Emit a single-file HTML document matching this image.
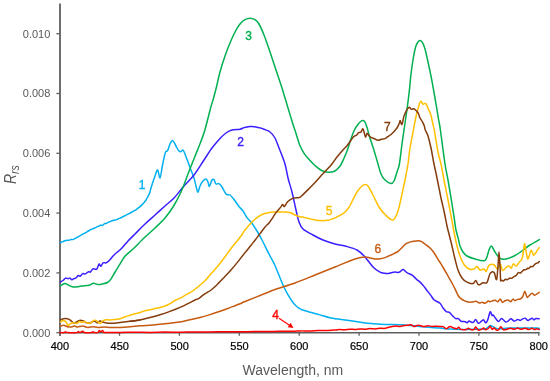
<!DOCTYPE html>
<html><head><meta charset="utf-8"><title>Rrs spectra</title>
<style>
html,body{margin:0;padding:0;background:#fff;}
body{width:550px;height:381px;overflow:hidden;font-family:"Liberation Sans",sans-serif;}
svg{display:block;}
svg text{font-family:"Liberation Sans",sans-serif;}
.yl{font-size:11px;fill:#595959;text-anchor:end;}
.xl{font-size:11px;fill:#000;stroke:#000;stroke-width:0.2;text-anchor:middle;}
.cl{font-size:12px;text-anchor:middle;}
.c{fill:none;stroke-width:1.5;stroke-linejoin:round;stroke-linecap:round;}
</style></head><body>
<svg width="550" height="381" viewBox="0 0 550 381">
<rect width="550" height="381" fill="#fff"/>

<g stroke="#5f5f5f" stroke-width="2" fill="none">
<line x1="60" y1="3.6" x2="60" y2="336" stroke-width="1.8"/>
<line x1="59" y1="332.7" x2="539.5" y2="332.7" stroke-width="1.6"/>
<line x1="56.4" y1="332.7" x2="60" y2="332.7" stroke-width="1.3"/>
<line x1="56.4" y1="272.9" x2="60" y2="272.9" stroke-width="1.3"/>
<line x1="56.4" y1="213.1" x2="60" y2="213.1" stroke-width="1.3"/>
<line x1="56.4" y1="153.3" x2="60" y2="153.3" stroke-width="1.3"/>
<line x1="56.4" y1="93.5" x2="60" y2="93.5" stroke-width="1.3"/>
<line x1="56.4" y1="33.7" x2="60" y2="33.7" stroke-width="1.3"/>
<line x1="119.5" y1="332" x2="119.5" y2="335.8" stroke-width="1.3"/>
<line x1="179.4" y1="332" x2="179.4" y2="335.8" stroke-width="1.3"/>
<line x1="239.3" y1="332" x2="239.3" y2="335.8" stroke-width="1.3"/>
<line x1="299.2" y1="332" x2="299.2" y2="335.8" stroke-width="1.3"/>
<line x1="359.1" y1="332" x2="359.1" y2="335.8" stroke-width="1.3"/>
<line x1="419.0" y1="332" x2="419.0" y2="335.8" stroke-width="1.3"/>
<line x1="478.9" y1="332" x2="478.9" y2="335.8" stroke-width="1.3"/>
<line x1="538.8" y1="332" x2="538.8" y2="335.8" stroke-width="1.3"/>
</g>
<text class="yl" x="50.3" y="336.6">0.000</text>
<text class="yl" x="50.3" y="276.8">0.002</text>
<text class="yl" x="50.3" y="217.0">0.004</text>
<text class="yl" x="50.3" y="157.2">0.006</text>
<text class="yl" x="50.3" y="97.4">0.008</text>
<text class="yl" x="50.3" y="37.6">0.010</text>
<text class="xl" x="59.9" y="350.1">400</text>
<text class="xl" x="119.8" y="350.1">450</text>
<text class="xl" x="179.6" y="350.1">500</text>
<text class="xl" x="239.5" y="350.1">550</text>
<text class="xl" x="299.3" y="350.1">600</text>
<text class="xl" x="359.1" y="350.1">650</text>
<text class="xl" x="419.0" y="350.1">700</text>
<text class="xl" x="478.8" y="350.1">750</text>
<text class="xl" x="538.7" y="350.1">800</text>
<text x="242.5" y="375" font-size="14" fill="#595959">Wavelength, nm</text>
<text transform="translate(15.5,184) rotate(-90) scale(1,1.13)" font-size="14" font-style="italic" fill="#595959">R<tspan font-size="10.5" dy="3.5">rs</tspan></text>
<path class="c" stroke="#00b0f0" d="M60.3 242.6C60.7 242.4 62.1 242.0 63.0 241.6C63.9 241.2 65.0 240.6 66.0 240.4C67.0 240.2 68.2 240.3 69.0 240.2C69.8 240.1 70.3 239.7 71.0 239.6C71.7 239.5 72.3 239.8 73.4 239.4C74.5 239.0 76.5 237.6 78.0 236.8C79.5 236.0 81.2 235.0 82.6 234.2C84.0 233.4 85.5 232.6 87.0 231.8C88.5 231.0 90.4 229.9 91.8 229.2C93.2 228.5 94.3 228.1 95.5 227.6C96.7 227.1 98.2 226.4 99.1 226.0C100.0 225.6 100.5 225.1 101.0 225.0C101.5 224.9 102.0 225.8 102.5 225.6C103.0 225.4 103.4 224.4 104.0 224.0C104.6 223.6 105.5 223.6 106.5 223.2C107.5 222.8 108.8 222.1 110.0 221.6C111.2 221.1 112.8 220.5 113.8 220.2C114.8 219.9 115.6 219.9 116.5 219.6C117.4 219.3 118.1 218.9 119.3 218.4C120.5 217.9 122.5 216.9 124.0 216.2C125.5 215.5 127.2 214.6 128.5 213.9C129.8 213.2 130.8 212.7 132.0 212.0C133.2 211.3 134.8 210.5 135.9 209.8C137.0 209.1 138.1 208.1 139.0 207.4C139.9 206.7 140.6 206.2 141.4 205.4C142.2 204.6 143.3 203.5 144.0 202.6C144.7 201.7 145.4 201.0 146.0 200.0C146.6 199.0 147.4 197.7 148.0 196.5C148.6 195.3 149.2 194.2 149.7 192.8C150.2 191.4 150.2 190.7 151.0 188.0C151.8 185.3 153.9 178.9 155.0 176.0C156.1 173.1 156.8 169.7 157.6 170.0C158.4 170.3 159.3 178.3 160.0 178.0C160.7 177.7 161.4 171.2 162.0 168.0C162.6 164.8 163.4 160.6 164.0 158.0C164.6 155.4 165.0 153.2 165.6 152.0C166.2 150.8 166.9 151.9 167.6 150.6C168.3 149.3 169.2 145.6 170.0 144.0C170.8 142.4 171.6 140.4 172.4 140.4C173.2 140.4 174.3 142.8 175.0 144.0C175.7 145.2 176.4 146.9 177.0 148.0C177.6 149.1 178.4 150.4 179.0 151.0C179.6 151.6 180.4 151.8 181.0 151.6C181.6 151.4 182.4 149.6 183.0 150.0C183.6 150.4 184.2 152.1 185.0 154.0C185.8 155.9 187.0 159.4 188.0 162.0C189.0 164.6 190.0 167.4 191.0 170.0C192.0 172.6 193.2 175.4 194.0 178.0C194.8 180.6 195.4 183.7 196.0 186.0C196.6 188.3 197.4 192.4 198.0 192.4C198.6 192.4 199.2 187.8 200.0 186.0C200.8 184.2 202.0 182.1 203.0 181.0C204.0 179.9 205.2 178.8 206.0 179.0C206.8 179.2 207.5 180.8 208.0 182.0C208.5 183.2 208.8 186.7 209.4 186.4C210.0 186.1 211.3 181.1 212.0 180.0C212.7 178.9 213.4 179.0 214.0 179.6C214.6 180.2 215.2 183.4 216.0 184.0C216.8 184.6 218.0 183.1 219.0 183.6C220.0 184.1 220.9 185.3 222.0 187.0C223.1 188.7 224.7 192.7 226.0 194.0C227.3 195.3 228.7 194.1 230.0 195.0C231.3 195.9 232.6 197.7 234.0 199.5C235.4 201.3 237.6 204.7 239.0 206.5C240.4 208.3 241.7 209.2 243.0 211.0C244.3 212.8 245.7 215.8 247.0 217.6C248.3 219.4 249.4 219.9 251.0 222.0C252.6 224.1 255.2 228.1 257.0 231.0C258.8 233.9 260.1 236.3 262.0 240.0C263.9 243.7 266.9 249.9 269.0 254.0C271.1 258.1 272.8 260.5 275.0 265.5C277.2 270.5 281.0 280.6 283.0 285.0C285.0 289.4 285.7 290.6 287.2 293.3C288.7 296.0 291.0 299.7 292.4 301.7C293.8 303.7 295.0 304.8 296.0 305.8C297.0 306.8 297.7 307.4 298.7 308.0C299.7 308.6 300.5 309.2 302.0 309.8C303.5 310.4 305.5 310.9 308.2 311.7C310.9 312.5 315.4 313.6 319.0 314.6C322.6 315.6 326.8 317.1 331.0 318.0C335.2 318.9 340.5 319.4 345.0 320.0C349.5 320.6 354.8 321.4 359.0 322.0C363.2 322.6 366.8 323.2 371.0 323.6C375.2 324.0 379.6 324.2 385.0 324.4C390.4 324.6 398.6 324.6 405.0 325.0C411.4 325.4 419.4 326.5 425.0 327.0C430.6 327.5 436.6 327.7 440.0 328.0C443.4 328.3 443.6 328.5 446.0 328.7C448.4 328.9 452.0 329.1 455.0 329.2C458.0 329.3 461.8 329.4 465.0 329.4C468.2 329.4 472.1 329.4 475.0 329.3C477.9 329.2 481.1 329.2 483.0 329.0C484.9 328.8 485.8 328.8 487.0 328.2C488.2 327.6 489.1 325.5 490.2 325.4C491.3 325.3 492.7 326.8 493.9 327.3C495.1 327.8 496.4 328.5 497.9 328.7C499.4 328.9 501.1 328.6 503.0 328.5C504.9 328.4 507.3 328.1 510.0 328.0C512.7 327.9 516.8 328.0 520.0 328.0C523.2 328.0 526.9 327.9 530.0 327.9C533.1 327.9 537.7 328.2 539.2 328.2"/>
<path class="c" stroke="#3a20ff" d="M60.4 282.0C60.9 281.7 62.8 280.6 63.6 280.0C64.4 279.4 64.8 278.3 65.5 278.1C66.2 277.9 67.4 278.7 68.1 278.7C68.8 278.7 69.4 277.9 70.0 278.1C70.6 278.3 71.3 279.6 71.9 279.7C72.5 279.8 73.2 279.0 73.8 278.7C74.4 278.4 75.0 278.6 75.7 278.1C76.4 277.6 77.6 275.8 78.3 275.5C79.0 275.2 79.5 276.5 80.2 276.2C80.9 275.9 81.9 274.0 82.7 273.6C83.5 273.2 84.4 274.2 85.3 273.9C86.2 273.6 87.7 272.0 88.5 271.7C89.3 271.4 89.7 272.6 90.4 272.1C91.1 271.6 91.9 269.3 92.9 268.8C93.9 268.3 95.7 270.0 96.7 269.2C97.7 268.4 98.3 264.6 99.0 264.1C99.7 263.6 100.1 266.5 100.8 266.3C101.5 266.1 102.2 263.4 103.1 262.8C104.0 262.2 105.3 263.2 106.3 262.8C107.3 262.4 108.5 261.3 109.5 260.3C110.5 259.3 111.6 257.6 112.6 256.5C113.6 255.4 114.5 254.5 115.8 253.3C117.1 252.1 119.0 251.0 121.0 249.0C123.0 247.0 125.8 243.4 128.0 241.0C130.2 238.6 132.3 236.7 135.0 234.0C137.7 231.3 141.8 227.0 145.0 224.0C148.2 221.0 151.8 217.9 155.0 215.0C158.2 212.1 162.0 208.7 165.0 206.0C168.0 203.3 171.0 201.2 174.0 198.0C177.0 194.8 180.8 189.7 184.0 186.0C187.2 182.3 190.8 179.2 194.0 175.0C197.2 170.8 201.1 164.3 204.0 160.0C206.9 155.7 209.4 151.4 212.0 148.0C214.6 144.6 217.8 140.9 220.0 138.5C222.2 136.1 224.1 134.4 226.0 133.0C227.9 131.6 229.8 130.6 232.0 130.0C234.2 129.4 238.1 129.7 240.0 129.3C241.9 128.9 242.7 128.0 244.0 127.6C245.3 127.2 246.7 126.9 248.0 126.7C249.3 126.5 250.7 126.6 252.0 126.6C253.3 126.6 254.7 126.8 256.0 127.0C257.3 127.2 258.7 127.5 260.0 127.9C261.3 128.3 262.4 128.6 264.0 129.3C265.6 130.0 268.2 130.6 270.0 132.0C271.8 133.4 273.6 135.4 275.0 138.0C276.4 140.6 277.4 143.8 279.0 148.0C280.6 152.2 283.6 159.2 285.0 164.0C286.4 168.8 286.9 173.5 288.0 178.0C289.1 182.5 290.7 186.9 292.0 192.0C293.3 197.1 294.9 205.2 296.0 210.0C297.1 214.8 297.9 219.0 299.0 222.0C300.1 225.0 300.8 226.9 303.0 229.0C305.2 231.1 309.8 233.2 313.0 235.0C316.2 236.8 319.5 238.6 323.0 240.0C326.5 241.4 331.5 243.0 335.0 244.0C338.5 245.0 341.5 245.0 345.0 246.0C348.5 247.0 353.8 248.2 357.0 250.0C360.2 251.8 362.4 254.3 365.0 257.0C367.6 259.7 370.6 264.6 373.0 267.0C375.4 269.4 378.1 271.2 380.0 272.2C381.9 273.2 383.8 273.1 385.0 273.3C386.2 273.5 386.4 273.7 387.4 273.6C388.4 273.5 389.8 273.1 391.0 272.8C392.2 272.5 393.5 271.9 394.7 271.9C395.9 271.9 397.5 272.6 398.4 272.5C399.3 272.4 399.8 271.8 400.5 271.3C401.2 270.8 402.2 269.6 403.0 269.6C403.8 269.6 404.6 270.6 405.3 271.2C406.0 271.8 406.5 272.5 407.6 273.1C408.7 273.7 410.7 274.2 412.2 275.2C413.7 276.2 415.6 278.6 416.8 279.6C418.0 280.6 418.6 280.8 419.5 281.6C420.4 282.4 421.4 283.4 422.3 284.4C423.2 285.4 424.1 286.7 425.0 287.8C425.9 288.9 426.8 290.2 427.8 291.4C428.8 292.6 430.0 294.2 431.0 295.6C432.0 297.0 432.8 298.8 434.2 300.0C435.6 301.2 438.6 302.0 440.0 303.3C441.4 304.6 442.1 306.8 443.1 308.1C444.1 309.4 445.3 311.0 446.3 311.7C447.3 312.4 448.4 311.6 449.4 312.3C450.4 313.0 451.6 314.9 452.6 315.9C453.6 316.9 454.8 318.2 455.7 318.6C456.6 319.0 457.6 318.2 458.4 318.6C459.2 319.0 459.9 320.7 461.0 321.2C462.1 321.7 464.2 321.4 465.2 321.7C466.2 322.0 466.7 322.9 467.3 322.8C467.9 322.7 468.2 321.1 468.9 321.0C469.6 320.9 470.7 322.0 471.5 322.2C472.3 322.4 472.9 322.6 473.6 322.2C474.3 321.8 474.9 319.4 475.7 319.6C476.5 319.8 477.4 323.0 478.3 323.3C479.2 323.6 480.7 321.7 481.5 321.2C482.3 320.7 482.9 319.6 483.6 319.9C484.3 320.2 485.0 322.8 485.7 322.8C486.4 322.8 487.1 321.3 487.8 319.6C488.5 317.9 489.5 312.6 490.2 311.9C490.9 311.2 491.5 315.0 492.0 315.5C492.5 316.0 492.7 314.6 493.3 315.1C493.9 315.6 495.1 317.8 495.9 318.8C496.7 319.8 497.7 321.4 498.5 321.4C499.3 321.4 500.5 318.9 501.2 318.6C501.9 318.3 502.4 318.9 503.1 319.5C503.8 320.1 505.0 321.9 505.8 322.1C506.6 322.3 507.6 321.3 508.4 320.8C509.2 320.3 510.1 318.7 511.0 318.8C511.9 318.9 513.2 321.1 514.3 321.2C515.4 321.3 516.7 319.6 517.6 319.5C518.5 319.4 519.4 320.5 520.2 320.4C521.0 320.3 522.0 319.2 522.8 318.8C523.6 318.4 524.6 317.9 525.4 318.2C526.2 318.5 527.0 320.4 528.1 320.4C529.2 320.4 531.1 318.3 532.0 318.2C532.9 318.1 533.4 319.8 534.0 319.9C534.6 320.0 535.1 318.8 535.9 318.6C536.7 318.4 538.7 318.8 539.2 318.8"/>
<path class="c" stroke="#00b050" d="M60.4 285.7C61.1 285.4 63.6 283.7 64.9 283.6C66.2 283.5 67.3 284.8 68.7 285.3C70.1 285.8 71.8 286.9 73.8 287.0C75.8 287.1 79.1 286.4 81.5 286.1C83.9 285.8 87.2 285.8 89.1 285.3C91.0 284.8 92.1 283.3 93.5 283.2C94.9 283.1 96.5 284.4 98.0 284.5C99.5 284.6 101.6 284.1 103.1 283.8C104.6 283.5 106.3 283.2 107.5 282.5C108.7 281.8 109.6 280.9 110.7 279.4C111.8 277.9 113.1 275.4 114.5 273.0C115.9 270.6 118.0 267.3 119.6 264.7C121.2 262.1 122.6 259.0 124.7 256.5C126.8 254.0 130.2 251.6 133.0 249.0C135.8 246.4 138.5 243.4 142.0 240.0C145.5 236.6 151.3 231.5 155.0 228.0C158.7 224.5 162.1 221.4 165.0 218.0C167.9 214.6 170.4 211.2 173.0 207.0C175.6 202.8 178.6 197.3 181.0 192.0C183.4 186.7 185.9 179.4 188.0 174.0C190.1 168.6 192.3 163.0 194.3 158.0C196.3 153.0 198.6 147.5 200.3 143.0C202.0 138.5 203.3 135.6 204.9 130.0C206.5 124.4 209.3 113.0 210.6 108.0C211.9 103.0 212.4 102.2 213.3 99.0C214.2 95.8 215.1 92.3 216.2 88.0C217.3 83.7 218.6 77.1 220.0 72.0C221.4 66.9 223.4 60.6 225.0 56.0C226.6 51.4 228.4 46.8 230.0 43.0C231.6 39.2 233.4 35.0 235.0 32.0C236.6 29.0 238.4 26.0 240.0 24.0C241.6 22.0 243.4 20.6 245.0 19.7C246.6 18.8 248.4 18.2 250.0 18.2C251.6 18.2 253.6 18.8 255.0 19.7C256.4 20.6 257.6 21.6 259.0 24.0C260.4 26.4 262.4 31.0 264.0 35.0C265.6 39.0 267.4 44.4 269.0 49.0C270.6 53.6 272.6 59.7 274.0 64.0C275.4 68.3 276.7 72.2 278.0 76.0C279.3 79.8 280.4 82.9 282.0 88.0C283.6 93.1 286.4 102.8 288.0 108.0C289.6 113.2 290.6 116.5 291.8 120.5C293.0 124.5 294.5 128.9 295.8 132.8C297.1 136.7 298.3 141.6 299.7 145.0C301.1 148.4 302.8 151.5 304.4 153.9C306.0 156.3 308.1 158.4 309.8 160.3C311.5 162.2 313.2 164.1 315.1 165.7C317.0 167.3 319.5 169.5 321.6 170.5C323.7 171.5 326.2 172.1 328.2 172.2C330.2 172.3 332.5 172.1 334.4 171.2C336.3 170.3 338.3 168.4 339.9 166.3C341.5 164.2 343.0 160.4 344.2 157.8C345.4 155.2 346.3 152.9 347.4 150.0C348.5 147.1 349.7 142.6 350.8 139.4C351.9 136.2 353.2 132.4 354.4 130.0C355.6 127.6 357.0 125.6 358.1 124.2C359.2 122.8 360.5 121.6 361.3 121.0C362.1 120.4 362.2 120.4 362.8 120.5C363.4 120.6 364.2 120.7 364.9 121.8C365.6 122.9 366.3 125.2 367.0 127.3C367.7 129.4 368.3 132.6 369.1 135.2C369.9 137.8 371.0 141.2 371.8 143.6C372.6 146.0 372.9 146.7 373.9 150.0C374.9 153.3 376.9 160.2 378.0 164.0C379.1 167.8 379.9 171.4 381.0 174.0C382.1 176.6 383.4 178.5 385.0 180.0C386.6 181.5 389.6 183.4 391.0 183.6C392.4 183.8 393.0 182.9 394.0 181.0C395.0 179.1 396.1 174.7 397.0 172.0C397.9 169.3 398.6 168.5 399.4 164.0C400.2 159.5 401.1 150.7 402.0 144.0C402.9 137.3 404.4 127.8 405.2 122.0C406.0 116.2 406.5 112.8 407.2 107.8C407.9 102.8 408.7 96.4 409.3 91.0C409.9 85.6 410.4 79.0 411.0 74.0C411.6 69.0 412.3 64.3 413.0 60.0C413.7 55.7 414.8 49.9 415.6 47.0C416.4 44.1 417.3 43.0 418.0 42.0C418.7 41.0 419.3 40.5 420.0 40.6C420.7 40.7 421.6 41.1 422.4 42.4C423.2 43.7 424.1 45.9 425.0 49.0C425.9 52.1 427.0 57.7 428.0 62.0C429.0 66.3 430.1 71.7 431.0 76.0C431.9 80.3 432.6 84.5 433.4 89.0C434.2 93.5 435.2 99.1 436.0 104.0C436.8 108.9 437.9 115.3 438.6 119.5C439.3 123.7 439.4 122.9 440.4 130.0C441.4 137.1 443.8 156.0 445.0 164.0C446.2 172.0 446.9 173.6 448.0 180.0C449.1 186.4 451.0 197.6 452.0 204.0C453.0 210.4 453.9 215.8 454.5 220.0C455.1 224.2 455.3 226.8 456.0 230.0C456.7 233.2 458.0 237.4 458.6 240.0C459.2 242.6 459.3 244.1 460.0 246.0C460.7 247.9 461.9 250.4 463.0 252.0C464.1 253.6 465.1 254.9 467.0 256.0C468.9 257.1 472.1 258.3 475.0 259.0C477.9 259.7 482.8 261.8 485.0 260.4C487.2 259.0 488.0 252.3 489.0 250.0C490.0 247.7 490.5 245.7 491.5 246.0C492.5 246.3 493.6 250.0 495.0 252.0C496.4 254.0 498.2 257.3 500.0 258.4C501.8 259.5 503.8 259.4 506.0 259.0C508.2 258.6 511.4 257.3 514.0 256.0C516.6 254.7 519.4 252.8 522.0 251.0C524.6 249.2 527.2 246.8 530.0 245.0C532.8 243.2 537.9 240.5 539.4 239.6"/>
<path class="c" stroke="#ff0000" d="M60.0 332.6C60.6 332.6 63.1 332.7 64.0 332.6C64.9 332.5 65.0 331.8 65.5 331.8C66.0 331.8 65.5 332.5 67.0 332.6C68.8 332.7 75.2 332.8 77.0 332.6C78.3 332.4 77.8 331.6 78.3 331.6C78.8 331.6 79.3 332.6 80.0 332.5C80.7 332.4 82.0 331.2 82.7 331.2C83.4 331.2 83.1 332.4 84.5 332.6C85.9 332.8 90.2 332.7 91.5 332.6C92.8 332.5 92.4 331.8 92.9 331.8C93.4 331.8 93.7 332.5 94.5 332.6C95.3 332.7 97.2 332.7 98.0 332.4C98.8 332.1 98.8 330.6 99.3 330.5C99.8 330.4 100.4 331.8 100.9 331.8C101.4 331.8 102.0 330.4 102.5 330.5C103.0 330.6 103.0 332.2 104.2 332.5C105.4 332.8 107.5 332.5 110.0 332.5C112.5 332.5 116.0 332.5 120.0 332.5C124.0 332.5 130.2 332.2 135.0 332.2C139.8 332.2 145.2 332.4 150.0 332.4C154.8 332.4 160.2 332.1 165.0 332.1C169.8 332.1 175.2 332.2 180.0 332.2C184.8 332.2 190.2 331.9 195.0 331.9C199.8 331.9 205.2 332.0 210.0 332.0C214.8 332.0 220.2 331.7 225.0 331.7C229.8 331.7 235.2 331.8 240.0 331.8C244.8 331.8 250.2 331.5 255.0 331.5C259.8 331.5 265.2 331.5 270.0 331.5C274.8 331.5 281.3 331.2 285.0 331.2C288.7 331.2 290.6 331.3 293.0 331.3C295.4 331.3 297.3 331.0 300.0 330.9C302.7 330.8 307.1 331.0 310.0 330.9C312.9 330.8 315.4 330.6 318.0 330.5C320.6 330.4 323.3 330.6 326.0 330.5C328.7 330.4 332.8 330.1 335.0 330.0C337.2 329.9 338.4 329.6 340.0 329.6C341.6 329.6 343.4 329.9 345.0 329.8C346.6 329.7 348.4 329.2 350.0 329.2C351.6 329.2 353.4 329.5 355.0 329.5C356.6 329.5 358.4 329.0 360.0 329.0C361.6 329.0 363.4 329.3 365.0 329.2C366.6 329.1 368.4 328.6 370.0 328.6C371.6 328.6 373.4 328.9 375.0 328.9C376.6 328.9 378.6 328.4 380.0 328.3C381.4 328.2 382.7 328.5 384.0 328.4C385.3 328.3 386.7 327.9 388.0 327.6C389.3 327.3 390.7 326.9 392.0 326.6C393.3 326.3 394.7 326.0 396.0 326.0C397.3 326.0 398.7 326.5 400.0 326.4C401.3 326.3 402.7 325.8 404.0 325.6C405.3 325.4 406.9 325.3 408.0 325.2C409.1 325.1 410.0 324.6 411.0 324.8C412.0 325.0 413.0 326.5 414.0 326.6C415.0 326.7 416.0 325.6 417.0 325.4C418.0 325.2 418.9 325.4 420.0 325.6C421.1 325.8 422.7 326.6 424.0 326.6C425.3 326.6 426.7 325.8 428.0 325.8C429.3 325.8 430.7 326.3 432.0 326.4C433.3 326.5 434.7 326.2 436.0 326.2C437.3 326.2 438.9 326.3 440.0 326.4C441.1 326.5 442.1 326.2 443.1 326.6C444.1 327.0 445.2 328.7 446.3 328.7C447.4 328.7 448.8 326.7 450.0 326.6C451.2 326.5 452.5 327.7 453.6 328.0C454.7 328.3 456.0 328.8 456.8 328.7C457.6 328.6 458.0 327.2 458.7 327.3C459.4 327.4 459.8 329.0 461.0 329.4C462.2 329.8 465.0 329.8 466.2 329.6C467.4 329.4 467.5 328.3 468.3 328.3C469.1 328.3 470.6 329.6 471.5 329.8C472.4 330.0 473.4 329.8 474.1 329.4C474.8 329.0 475.0 326.9 475.7 327.0C476.4 327.1 477.3 329.8 478.3 330.1C479.3 330.4 481.2 329.4 482.0 329.1C482.8 328.8 483.0 327.9 483.6 328.0C484.2 328.1 484.9 329.7 485.7 329.8C486.5 329.9 487.6 329.1 488.3 328.5C489.0 327.9 489.6 326.1 490.2 326.2C490.8 326.3 491.4 329.0 492.0 329.3C492.6 329.6 493.2 327.9 493.9 328.0C494.6 328.1 495.9 329.7 496.6 330.0C497.3 330.3 497.8 330.5 498.5 330.0C499.2 329.5 500.1 326.8 500.8 326.7C501.5 326.6 502.1 329.2 503.1 329.6C504.1 330.0 505.9 329.5 507.1 329.3C508.3 329.1 509.1 328.3 510.3 328.3C511.5 328.3 513.1 329.3 514.3 329.3C515.5 329.3 516.6 328.0 517.6 328.0C518.6 328.0 519.6 329.3 520.8 329.3C522.0 329.3 524.1 328.3 525.4 328.3C526.7 328.3 527.6 329.6 528.7 329.6C529.8 329.6 531.1 328.3 532.0 328.3C532.9 328.3 533.9 329.5 534.6 329.6C535.3 329.7 535.9 328.7 536.6 328.7C537.3 328.7 538.8 329.5 539.2 329.6"/>
<path class="c" stroke="#843c0c" d="M60.5 319.7C61.2 319.5 63.6 318.6 64.9 318.5C66.2 318.4 67.7 318.7 68.7 319.1C69.7 319.5 70.5 320.4 71.3 321.0C72.1 321.6 72.9 322.8 73.8 322.9C74.7 323.0 76.1 322.0 77.0 321.6C77.9 321.2 78.5 320.5 79.5 320.4C80.5 320.3 82.3 320.6 83.4 321.0C84.5 321.4 85.4 322.4 86.5 322.7C87.6 323.0 89.2 323.2 90.4 322.9C91.6 322.6 93.1 321.0 94.2 321.0C95.3 321.0 96.5 322.9 97.4 322.9C98.3 322.9 98.9 321.1 99.9 321.0C100.9 320.9 102.4 321.9 103.7 322.3C105.0 322.7 106.5 323.2 108.2 323.3C109.9 323.4 112.6 323.3 114.5 323.2C116.4 323.1 117.5 322.9 120.0 322.6C122.5 322.3 126.8 321.7 130.0 321.3C133.2 320.9 138.4 320.1 140.0 319.9"/>
<path class="c" stroke="#ffc000" d="M60.5 321.9C61.0 321.7 62.7 320.3 63.6 320.4C64.5 320.5 65.5 321.5 66.2 322.3C66.9 323.1 67.4 325.3 68.1 325.5C68.8 325.7 69.7 323.9 70.6 323.5C71.5 323.1 72.8 322.7 73.8 322.7C74.8 322.7 76.1 323.7 77.0 323.5C77.9 323.3 78.7 321.8 79.5 321.6C80.3 321.4 81.3 322.3 82.1 322.3C82.9 322.3 83.7 321.5 84.6 321.6C85.5 321.7 86.8 323.0 87.8 323.2C88.8 323.4 90.1 323.3 91.0 322.9C91.9 322.5 92.8 320.8 93.5 320.4C94.2 320.0 94.8 320.2 95.5 320.4C96.2 320.6 97.2 321.4 98.0 321.9C98.8 322.4 99.8 323.6 100.5 323.5C101.2 323.4 101.6 321.6 102.5 321.0C103.4 320.4 105.1 319.9 106.3 319.7C107.5 319.5 108.6 320.0 110.0 320.0C111.4 320.0 113.4 319.8 115.0 319.6C116.6 319.4 118.4 319.1 120.0 318.7C121.6 318.3 123.4 317.4 125.0 316.8C126.6 316.2 128.4 315.7 130.0 315.2C131.6 314.7 133.4 314.2 135.0 313.8C136.6 313.4 138.4 313.0 140.0 312.5C141.6 312.0 143.4 311.2 145.0 310.8C146.6 310.4 148.4 310.2 150.0 309.8C151.6 309.4 153.4 309.0 155.0 308.6C156.6 308.2 158.4 307.9 160.0 307.5C161.6 307.1 163.4 306.6 165.0 306.0C166.6 305.4 168.4 304.5 170.0 303.6C171.6 302.7 173.4 301.4 175.0 300.5C176.6 299.6 178.4 299.0 180.0 298.2C181.6 297.4 183.4 296.3 185.0 295.4C186.6 294.5 188.6 293.5 190.0 292.6C191.4 291.7 191.6 291.9 194.0 290.0C196.4 288.1 202.2 283.4 205.0 280.7C207.8 278.0 209.5 275.5 211.6 273.1C213.7 270.7 216.0 268.3 218.1 265.8C220.2 263.3 222.6 260.1 224.7 257.3C226.8 254.5 229.1 250.9 231.2 248.2C233.3 245.5 236.1 242.3 237.8 240.2C239.5 238.1 240.5 236.6 241.7 235.0C242.9 233.4 243.2 232.2 245.0 230.0C246.8 227.8 250.4 223.4 253.0 221.0C255.6 218.6 258.4 216.3 261.0 215.0C263.6 213.7 266.8 213.1 269.0 212.6C271.2 212.1 272.4 212.1 275.0 212.0C277.6 211.9 282.6 212.0 285.0 212.1C287.4 212.2 288.3 212.0 290.0 212.5C291.7 213.0 293.8 214.5 295.5 215.2C297.2 215.9 299.6 216.6 300.9 216.9C302.2 217.2 302.6 217.0 303.5 217.2C304.4 217.4 305.5 217.9 306.4 218.1C307.3 218.3 308.1 218.2 309.0 218.4C309.9 218.6 310.9 219.2 311.8 219.4C312.7 219.6 313.6 219.6 314.5 219.8C315.4 220.0 316.4 220.4 317.3 220.5C318.2 220.6 319.1 220.4 320.0 220.4C320.9 220.4 321.8 220.8 322.7 220.8C323.6 220.8 324.6 220.5 325.5 220.4C326.4 220.3 327.3 220.4 328.2 220.2C329.1 220.0 330.1 219.7 331.0 219.4C331.9 219.1 332.7 218.9 333.6 218.5C334.5 218.1 335.6 217.6 336.5 217.2C337.4 216.8 338.2 216.3 339.1 215.8C340.0 215.3 341.1 214.7 342.0 214.2C342.9 213.7 343.6 213.3 344.5 212.5C345.4 211.7 346.6 210.3 347.5 209.2C348.4 208.1 348.5 208.3 350.0 205.5C351.5 202.7 355.1 195.1 357.0 192.0C358.9 188.9 360.7 187.2 362.0 186.0C363.3 184.8 364.0 184.4 365.0 184.4C366.0 184.4 366.7 184.3 368.0 186.0C369.3 187.7 371.2 191.6 373.0 195.0C374.8 198.4 377.1 203.9 379.0 207.0C380.9 210.1 382.8 212.4 385.0 214.5C387.2 216.6 390.9 220.6 393.0 220.0C395.1 219.4 396.6 215.2 398.0 211.0C399.4 206.8 400.9 199.0 402.0 194.0C403.1 189.0 404.0 184.8 405.0 180.0C406.0 175.2 407.2 169.1 408.0 164.0C408.8 158.9 409.1 153.4 410.0 148.0C410.9 142.6 412.5 134.8 413.4 130.0C414.3 125.2 415.0 121.4 415.7 118.0C416.4 114.6 417.3 111.2 418.0 108.8C418.7 106.4 419.3 104.0 419.8 102.8C420.3 101.6 420.7 101.2 421.2 101.4C421.7 101.6 422.3 103.9 423.0 104.2C423.7 104.5 424.7 103.2 425.3 103.3C425.9 103.4 426.3 104.2 426.7 105.1C427.1 106.0 427.5 107.5 428.1 108.8C428.7 110.1 429.8 111.8 430.4 113.4C431.0 115.0 431.3 116.7 431.8 118.9C432.3 121.1 433.2 125.4 433.6 127.2C434.0 129.0 433.6 126.0 434.3 130.0C435.0 134.0 436.9 146.6 438.0 152.0C439.1 157.4 440.0 159.5 441.0 164.0C442.0 168.5 442.9 174.2 444.0 180.0C445.1 185.8 446.7 193.4 448.0 200.0C449.3 206.6 451.0 215.9 452.0 221.0C453.0 226.1 453.2 228.0 454.0 232.0C454.8 236.0 456.0 242.2 457.0 246.0C458.0 249.8 458.9 253.0 460.0 256.0C461.1 259.0 462.6 262.4 464.0 264.5C465.4 266.6 467.4 268.3 469.0 269.0C470.6 269.7 472.7 269.4 474.0 269.0C475.3 268.6 476.0 266.4 477.0 266.6C478.0 266.8 478.9 269.6 480.0 270.0C481.1 270.4 483.0 268.8 484.0 269.0C485.0 269.2 485.4 271.9 486.2 271.3C487.0 270.7 487.8 266.3 489.0 265.3C490.2 264.3 492.7 264.2 494.0 264.8C495.3 265.4 496.4 269.0 497.4 268.9C498.4 268.8 499.5 263.7 500.3 263.9C501.1 264.1 501.6 269.8 502.5 270.4C503.4 271.0 505.1 268.2 506.1 267.5C507.1 266.8 508.2 265.9 509.0 266.0C509.8 266.1 510.4 268.5 511.1 268.2C511.8 267.9 512.5 264.3 513.3 263.9C514.1 263.5 515.3 266.2 516.2 266.0C517.1 265.8 518.2 263.6 519.1 262.4C520.0 261.2 521.3 260.6 522.0 258.8C522.7 257.0 523.0 253.3 523.4 250.9C523.8 248.5 524.2 243.5 524.6 243.5C525.0 243.5 525.5 248.5 526.0 250.9C526.5 253.3 527.2 258.1 527.7 258.8C528.2 259.5 528.8 256.6 529.4 255.2C530.0 253.8 530.6 250.2 531.3 250.2C532.0 250.2 532.8 254.8 533.5 255.2C534.2 255.6 534.9 253.9 535.6 253.0C536.3 252.1 537.2 250.2 537.8 249.4C538.4 248.6 539.1 248.0 539.3 247.7"/>
<path class="c" stroke="#c55a11" d="M60.5 326.1C61.0 326.0 62.5 325.1 63.6 325.2C64.7 325.3 66.3 326.4 67.5 326.7C68.7 327.0 70.2 327.1 71.3 327.0C72.4 326.9 73.5 326.1 74.5 326.1C75.5 326.1 76.3 327.0 77.6 327.0C78.9 327.0 81.1 326.0 82.7 326.1C84.3 326.2 86.2 327.3 87.8 327.4C89.4 327.5 91.3 326.7 92.9 326.7C94.5 326.7 96.2 327.4 98.0 327.4C99.8 327.4 102.4 327.0 104.4 327.0C106.4 327.0 108.2 327.3 110.7 327.4C113.2 327.5 116.9 327.6 120.0 327.5C123.1 327.4 126.8 327.1 130.0 326.8C133.2 326.5 136.8 326.1 140.0 325.8C143.2 325.5 146.8 325.4 150.0 325.2C153.2 325.0 156.8 324.6 160.0 324.3C163.2 324.0 166.8 323.6 170.0 323.2C173.2 322.8 176.8 322.5 180.0 322.0C183.2 321.5 186.8 320.5 190.0 319.8C193.2 319.1 196.8 318.3 200.0 317.5C203.2 316.7 206.8 315.6 210.0 314.6C213.2 313.6 216.8 312.4 220.0 311.3C223.2 310.2 226.8 308.8 230.0 307.6C233.2 306.4 237.6 304.8 240.0 303.8C242.4 302.8 241.0 303.1 245.0 301.5C249.0 299.9 260.2 295.4 265.0 293.5C269.8 291.6 270.2 291.2 275.0 289.5C279.8 287.8 288.6 285.3 295.0 283.0C301.4 280.7 308.6 277.6 315.0 275.0C321.4 272.4 328.6 269.6 335.0 267.0C341.4 264.4 350.2 260.6 355.0 259.0C359.8 257.4 361.8 257.0 365.0 257.0C368.2 257.0 372.6 258.7 375.0 259.0C377.4 259.3 378.4 259.0 380.0 258.8C381.6 258.6 383.5 258.1 385.0 257.6C386.5 257.1 387.8 256.4 389.2 255.8C390.6 255.2 392.5 254.4 394.0 253.6C395.5 252.8 397.1 252.1 398.4 251.1C399.7 250.1 400.9 248.7 402.1 247.5C403.3 246.3 404.6 244.7 405.7 243.9C406.8 243.1 408.0 242.8 409.0 242.4C410.0 242.0 411.1 241.7 412.2 241.5C413.3 241.3 414.8 241.1 416.0 241.0C417.2 240.9 418.5 240.8 419.5 240.9C420.5 241.0 421.3 241.4 422.0 241.8C422.7 242.2 423.2 242.7 424.1 243.3C425.0 243.9 426.5 245.0 427.5 245.8C428.5 246.6 429.6 247.5 430.6 248.6C431.6 249.7 433.0 251.4 434.0 252.8C435.0 254.2 436.0 255.9 437.0 257.6C438.0 259.3 439.3 261.3 440.5 263.2C441.7 265.1 443.1 267.5 444.3 269.5C445.5 271.5 446.8 273.9 448.0 276.0C449.2 278.1 450.6 280.5 451.7 282.5C452.8 284.5 453.9 286.6 455.0 288.8C456.1 291.0 457.4 294.4 458.4 296.0C459.4 297.6 460.1 297.8 461.0 298.6C461.9 299.4 462.9 300.1 464.1 300.7C465.3 301.3 467.0 301.9 468.3 302.1C469.6 302.3 471.3 302.2 472.5 302.1C473.7 302.0 474.6 301.0 475.7 301.2C476.8 301.4 478.4 302.9 479.4 303.1C480.4 303.3 481.1 302.3 482.0 302.3C482.9 302.3 484.1 303.5 485.1 303.3C486.1 303.1 487.5 301.2 488.3 301.0C489.1 300.8 489.3 301.8 490.0 301.8C490.7 301.8 491.8 301.0 492.6 300.7C493.4 300.4 494.5 300.0 495.3 300.2C496.1 300.4 497.1 302.0 497.9 301.8C498.7 301.6 499.5 299.0 500.2 299.1C500.9 299.2 501.7 302.1 502.5 302.4C503.3 302.7 504.2 301.1 505.1 300.7C506.0 300.3 507.5 300.0 508.4 300.2C509.3 300.4 510.0 302.0 510.7 301.8C511.4 301.6 512.3 299.3 513.0 299.1C513.7 298.9 514.2 300.7 514.9 300.7C515.6 300.7 516.8 299.7 517.6 299.4C518.4 299.1 519.4 299.6 520.2 299.1C521.0 298.6 522.1 297.7 522.8 296.5C523.5 295.3 524.1 291.2 524.8 291.3C525.5 291.4 526.3 296.5 527.0 297.2C527.7 297.9 528.6 296.1 529.4 295.5C530.2 294.9 531.2 293.2 532.0 293.2C532.8 293.2 533.8 295.1 534.6 295.2C535.4 295.3 536.6 294.1 537.3 293.6C538.0 293.1 538.9 292.5 539.2 292.3"/>
<path class="c" stroke="#843c0c" d="M130.0 321.3C131.6 321.1 136.8 320.5 140.0 319.9C143.2 319.3 146.8 318.4 150.0 317.6C153.2 316.8 156.8 315.8 160.0 314.8C163.2 313.8 166.8 312.6 170.0 311.4C173.2 310.2 176.8 308.8 180.0 307.4C183.2 306.0 187.6 303.8 190.0 302.6C192.4 301.4 193.6 300.7 195.0 300.0C196.4 299.3 197.7 299.1 199.0 298.3C200.3 297.5 201.7 296.1 203.0 295.2C204.3 294.3 205.7 293.4 207.0 292.6C208.3 291.8 209.5 291.2 211.1 290.0C212.7 288.8 214.6 287.1 216.8 285.0C219.0 282.9 222.4 279.1 224.7 276.7C227.0 274.3 229.1 272.2 231.2 269.8C233.3 267.4 235.7 264.5 237.8 261.9C239.9 259.3 242.3 256.0 244.4 253.4C246.5 250.8 249.2 247.6 250.9 245.5C252.6 243.4 253.5 242.1 255.0 240.2C256.5 238.3 258.4 235.7 260.0 233.6C261.6 231.5 263.5 228.8 265.0 227.0C266.5 225.2 267.8 224.5 269.6 222.2C271.4 219.9 274.4 214.9 276.2 212.4C278.0 209.9 280.1 207.9 281.1 206.6C282.1 205.3 282.2 204.4 282.7 204.4C283.2 204.4 283.6 206.9 284.4 206.5C285.2 206.1 286.2 203.0 287.6 201.7C289.0 200.4 291.6 198.8 293.4 198.1C295.2 197.4 297.6 198.2 299.1 197.6C300.6 197.0 301.7 195.8 303.0 194.6C304.3 193.4 305.3 192.4 307.3 190.4C309.3 188.4 312.9 184.8 315.5 182.0C318.1 179.2 321.0 175.8 323.6 173.0C326.2 170.2 329.7 166.8 331.8 164.2C333.9 161.6 335.2 159.3 337.0 157.0C338.8 154.7 341.4 151.7 342.9 150.0C344.4 148.3 345.3 147.7 346.6 146.2C347.9 144.7 349.6 142.1 350.8 140.5C352.0 138.9 353.0 137.2 353.9 136.4C354.8 135.6 355.7 135.8 356.5 135.2C357.3 134.6 357.9 133.2 358.6 132.7C359.3 132.2 360.0 132.9 360.7 132.3C361.4 131.7 362.3 128.8 362.8 128.7C363.3 128.6 363.5 130.2 363.9 131.5C364.3 132.8 365.0 136.7 365.5 137.0C366.0 137.3 366.5 133.6 367.0 133.3C367.5 133.0 368.0 134.6 368.6 135.2C369.2 135.8 369.9 136.8 370.7 137.3C371.5 137.8 372.7 138.0 373.9 138.5C375.1 139.0 376.9 140.2 378.1 140.3C379.3 140.4 380.1 139.6 381.2 139.3C382.3 139.0 383.9 139.0 385.0 138.6C386.1 138.2 386.8 137.3 387.8 136.6C388.8 135.9 390.1 135.3 391.0 134.5C391.9 133.7 392.8 132.8 393.6 131.9C394.4 131.0 395.4 130.0 396.2 129.0C397.0 128.0 397.8 126.6 398.3 125.6C398.8 124.6 399.3 123.4 399.6 122.6C399.9 121.8 399.8 120.4 400.2 120.7C400.6 121.0 401.3 125.0 401.9 124.4C402.5 123.8 403.2 118.9 403.7 117.1C404.2 115.3 404.6 114.6 405.1 113.4C405.6 112.2 406.2 110.7 406.9 109.7C407.6 108.7 408.5 107.3 409.2 107.2C409.9 107.1 410.4 108.9 411.1 109.2C411.8 109.5 412.9 108.5 413.8 108.8C414.7 109.1 415.9 110.4 416.6 111.1C417.3 111.8 417.9 112.4 418.4 113.4C418.9 114.4 419.1 116.1 419.8 117.5C420.5 118.9 421.9 120.7 422.6 122.1C423.3 123.5 424.0 125.0 424.4 126.3C424.8 127.6 424.7 128.4 425.3 130.0C425.9 131.6 427.1 133.1 428.0 136.0C428.9 138.9 430.0 143.5 431.0 148.0C432.0 152.5 433.0 159.2 434.0 164.0C435.0 168.8 435.9 172.6 437.0 178.0C438.1 183.4 439.9 192.7 441.0 198.0C442.1 203.3 443.0 206.5 444.0 211.0C445.0 215.5 446.2 222.3 447.0 226.0C447.8 229.7 448.4 231.8 449.0 234.0C449.6 236.2 450.0 238.1 450.5 240.0C451.0 241.9 451.3 243.0 452.0 246.0C452.7 249.0 454.0 255.2 455.0 259.0C456.0 262.8 456.9 267.0 458.0 270.0C459.1 273.0 460.6 276.0 462.0 278.0C463.4 280.0 465.2 281.3 467.0 282.2C468.8 283.1 471.6 283.9 473.0 283.6C474.4 283.3 474.9 280.4 475.8 280.6C476.7 280.8 477.3 284.4 478.5 284.8C479.7 285.2 481.6 283.2 483.0 282.8C484.4 282.4 485.9 283.9 487.0 282.5C488.1 281.1 488.9 275.7 489.8 274.0C490.7 272.3 491.7 272.0 492.4 271.8C493.1 271.6 493.7 271.8 494.4 273.0C495.1 274.2 496.0 280.7 496.6 279.6C497.2 278.5 497.6 270.4 498.0 266.0C498.4 261.6 498.7 252.0 499.0 252.0C499.3 252.0 499.7 261.5 500.0 266.0C500.3 270.5 500.4 277.8 500.6 280.0C500.8 282.2 500.6 279.8 501.0 279.9C501.4 280.0 502.5 281.0 503.2 280.9C503.9 280.8 504.8 279.5 505.5 279.3C506.2 279.1 506.9 279.8 507.5 279.6C508.1 279.4 508.8 278.4 509.5 278.2C510.2 278.0 511.1 278.6 511.8 278.3C512.5 278.0 513.3 277.1 514.0 276.6C514.7 276.1 515.5 276.0 516.2 275.4C516.9 274.8 517.6 273.1 518.3 272.7C519.0 272.3 519.8 273.3 520.5 273.0C521.2 272.7 521.9 271.5 522.5 271.0C523.1 270.5 523.5 270.0 524.1 269.8C524.7 269.6 525.4 269.8 526.0 269.6C526.6 269.4 527.2 268.5 527.7 268.3C528.2 268.1 528.5 268.7 529.0 268.4C529.5 268.1 530.1 266.8 530.6 266.5C531.1 266.2 531.7 266.9 532.2 266.8C532.7 266.7 533.1 266.2 533.5 265.8C533.9 265.4 534.5 264.6 535.0 264.2C535.5 263.8 535.9 263.5 536.4 263.3C536.9 263.1 537.5 263.1 538.0 262.8C538.5 262.5 539.1 261.7 539.3 261.5"/>
<text class="cl" x="142.0" y="189.0" fill="#00b0f0" stroke="#00b0f0" stroke-width="0.35">1</text>
<text class="cl" x="240.6" y="146.0" fill="#3a20ff" stroke="#3a20ff" stroke-width="0.35">2</text>
<text class="cl" x="248.7" y="40.0" fill="#00b050" stroke="#00b050" stroke-width="0.35">3</text>
<text class="cl" x="275.5" y="319.0" fill="#ff0000" stroke="#ff0000" stroke-width="0.35">4</text>
<text class="cl" x="329.0" y="215.1" fill="#ffc000" stroke="#ffc000" stroke-width="0.35">5</text>
<text class="cl" x="377.8" y="253.2" fill="#c55a11" stroke="#c55a11" stroke-width="0.35">6</text>
<text class="cl" x="387.4" y="130.9" fill="#843c0c" stroke="#843c0c" stroke-width="0.35">7</text>
<g stroke="#ff0000" fill="#ff0000"><line x1="279" y1="318.2" x2="291" y2="326.3" stroke-width="1.2"/><polygon points="293.5,328 287.7,327.2 290.6,322.8" stroke="none"/></g>
</svg></body></html>
